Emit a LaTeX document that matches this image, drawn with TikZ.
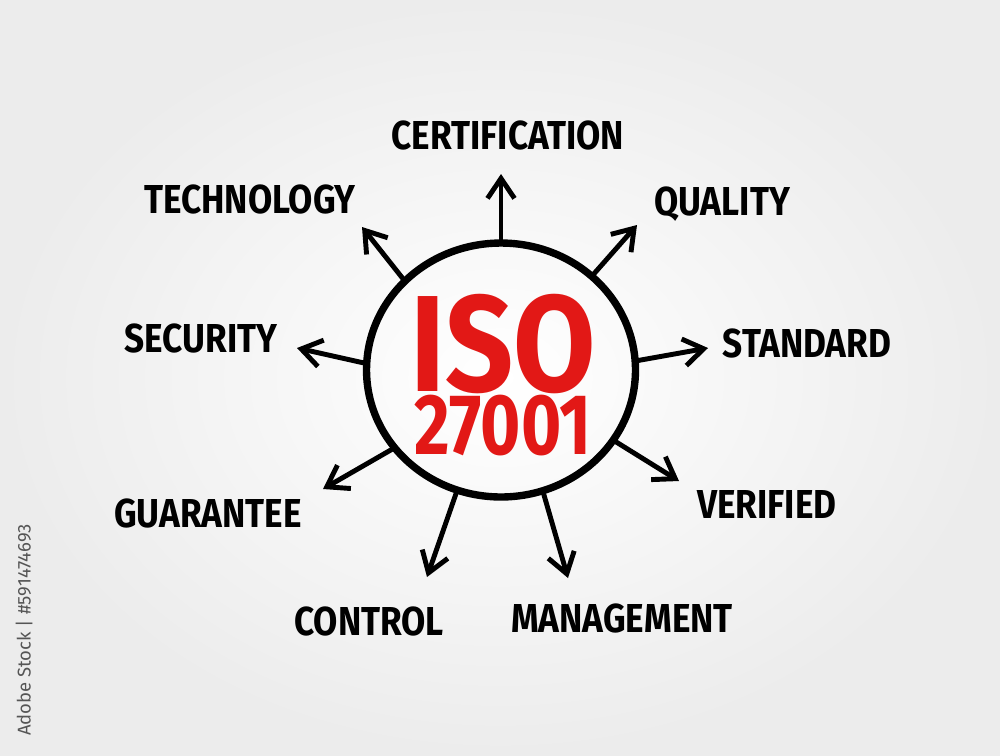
\documentclass[tikz,border=0pt]{standalone}
\usepackage{fontspec}
\setmainfont{Fira Sans}
\newfontfamily\markerfont{Fira Sans}[FakeStretch=0.87]
\usetikzlibrary{arrows.meta,shapes.geometric}

\definecolor{isored}{RGB}{226,24,22}
\definecolor{bggray}{RGB}{236,236,236}
\definecolor{stampgray}{RGB}{85,85,85}

\tikzset{
  topic/.style={font=\markerfont\bfseries\fontsize{23}{23}\selectfont, inner sep=0pt, anchor=base},
  spoke/.style={line width=2.8pt, line cap=round, -{Straight Barb[length=4mm,width=5.4mm]}},
  ring/.style={ellipse, draw, line width=4.2pt, inner sep=0pt, minimum width=5.38cm, minimum height=5.08cm},
  bigred/.style={text=isored, inner sep=0pt, align=center, font=\markerfont\bfseries}
}

\begin{document}
\begin{tikzpicture}[x=0.02cm, y=-0.02cm]
  \shade[inner color=white, outer color=bggray] (0,0) rectangle (1000,755);
  \useasboundingbox (0,0) rectangle (1000,755);

  % centre
  \node[ring] (iso) at (501,370) {};
  \node[bigred] (isotxt) at (503,375)
    {\fontsize{78}{40}\selectfont ISO\\\fontsize{49}{40}\selectfont\scalebox{0.92}[1]{27001}};

  % topics round the circle
  \foreach \name/\ang/\tx/\ty/\lx/\ly/\txt in {
    cert/90/501/174/508/149/CERTIFICATION,
    tech/137/362/227/250/213/TECHNOLOGY,
    qual/46/637/225/722/215/QUALITY,
    secu/177/297/348/201/352/SECURITY,
    stan/4/708/348/807/357/STANDARD,
    guar/216/323/489/208/527/GUARANTEE,
    veri/328/679/481/767/518/VERIFIED,
    cont/250/427/577/369/635/CONTROL,
    mana/289/568/578/622/632/MANAGEMENT} {
    \node[topic] (\name) at (\lx,\ly) {\txt};
    \coordinate (\name-tip) at (\tx,\ty);
    \draw[spoke] (iso.\ang) -- (\name-tip);
  }

  \node[rotate=90, text=stampgray, font=\fontsize{10.5}{10.5}\selectfont] (stamp) at (24,630) {Adobe Stock | \#591474693};
\end{tikzpicture}
\end{document}
